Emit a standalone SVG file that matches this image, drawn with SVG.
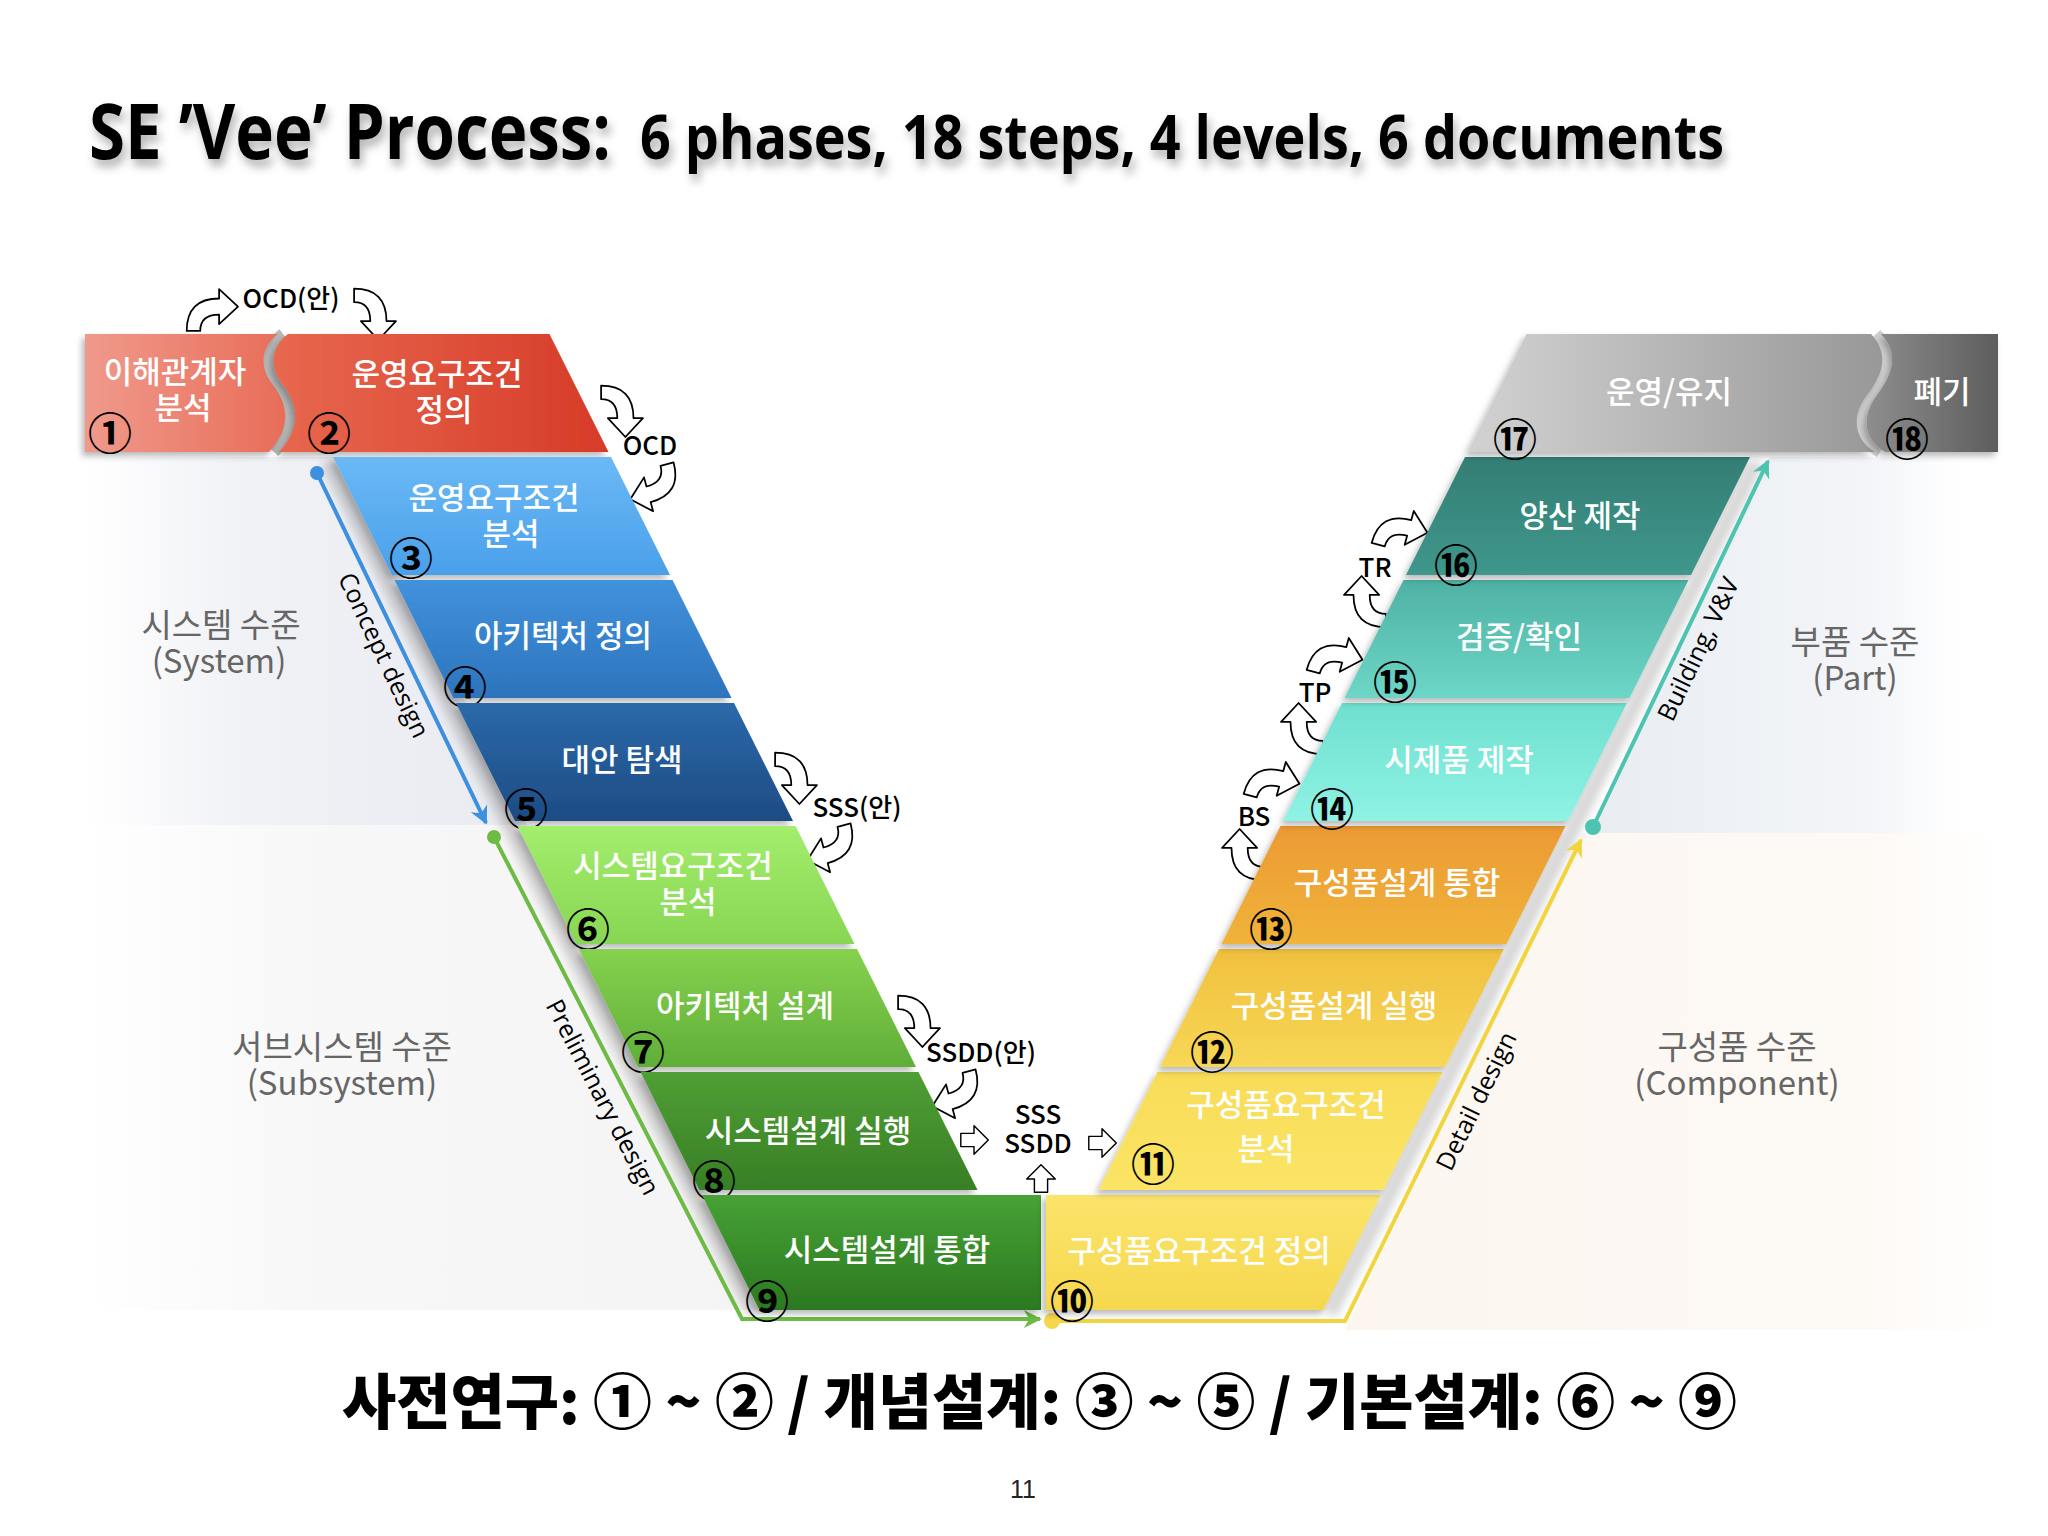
<svg xmlns="http://www.w3.org/2000/svg" width="2048" height="1536" viewBox="0 0 2048 1536">
<style>
.lbl{font-family:"Noto Sans CJK KR","Noto Sans",sans-serif;font-size:31px;fill:#fff;text-anchor:middle;font-weight:500}
.num{font-family:"Noto Sans CJK KR","DejaVu Sans",sans-serif;font-size:44px;fill:#000;text-anchor:middle;font-weight:700}
.doc{font-family:"Noto Sans CJK KR","Noto Sans",sans-serif;font-size:26px;fill:#000;text-anchor:middle;font-weight:500}
.lvl{font-family:"Noto Sans CJK KR","Noto Sans",sans-serif;font-size:33px;fill:#666;text-anchor:middle}
.ph{font-family:"Open Sans","Noto Sans",sans-serif;font-size:25px;fill:#000;text-anchor:middle}
.ca{fill:#fff;stroke:#000;stroke-width:1.3;stroke-linejoin:round}
.box{filter:url(#sh)}
.edge{stroke:#000;stroke-opacity:0.16;stroke-width:14;filter:url(#blur)}
</style>
<defs>
<filter id="sh" x="-10%" y="-10%" width="120%" height="130%"><feDropShadow dx="-3" dy="4" stdDeviation="3" flood-color="#000" flood-opacity="0.28"/></filter>
<filter id="blur" x="-20%" y="-5%" width="140%" height="110%"><feGaussianBlur stdDeviation="4"/></filter>
<filter id="tsh" x="-5%" y="-30%" width="110%" height="170%"><feDropShadow dx="3" dy="7" stdDeviation="5" flood-color="#000" flood-opacity="0.3"/></filter>
<linearGradient id="gSys" x1="0" y1="0" x2="1" y2="0"><stop offset="0" stop-color="#fff"/><stop offset="0.35" stop-color="#f1f2f6"/><stop offset="1" stop-color="#e9ebf1"/></linearGradient>
<linearGradient id="gSub" x1="0" y1="0" x2="1" y2="0"><stop offset="0" stop-color="#fff"/><stop offset="0.3" stop-color="#f8f8f8"/><stop offset="1" stop-color="#f4f4f4"/></linearGradient>
<linearGradient id="gPart" x1="0" y1="0" x2="1" y2="0"><stop offset="0" stop-color="#e9edf2"/><stop offset="0.75" stop-color="#f3f5f8"/><stop offset="1" stop-color="#fff"/></linearGradient>
<linearGradient id="gComp" x1="0" y1="0" x2="1" y2="0"><stop offset="0" stop-color="#fcf6ef"/><stop offset="0.8" stop-color="#fdf9f5"/><stop offset="1" stop-color="#fff"/></linearGradient>
<linearGradient id="g1" x1="0" y1="0" x2="1" y2="0"><stop offset="0" stop-color="#f09a8c"/><stop offset="1" stop-color="#e86d58"/></linearGradient>
<linearGradient id="g2" x1="0" y1="0" x2="1" y2="0"><stop offset="0" stop-color="#e8684f"/><stop offset="1" stop-color="#d63b28"/></linearGradient>
<linearGradient id="g3" x1="0" y1="0" x2="0" y2="1"><stop offset="0" stop-color="#6bb9f6"/><stop offset="1" stop-color="#4aa0ea"/></linearGradient>
<linearGradient id="g4" x1="0" y1="0" x2="0" y2="1"><stop offset="0" stop-color="#4291dc"/><stop offset="1" stop-color="#2c74bd"/></linearGradient>
<linearGradient id="g5" x1="0" y1="0" x2="0" y2="1"><stop offset="0" stop-color="#2b69a9"/><stop offset="1" stop-color="#1d4c84"/></linearGradient>
<linearGradient id="g6" x1="0" y1="0" x2="0" y2="1"><stop offset="0" stop-color="#a3ee6c"/><stop offset="1" stop-color="#88d654"/></linearGradient>
<linearGradient id="g7" x1="0" y1="0" x2="0" y2="1"><stop offset="0" stop-color="#86d24f"/><stop offset="1" stop-color="#5fae38"/></linearGradient>
<linearGradient id="g8" x1="0" y1="0" x2="0" y2="1"><stop offset="0" stop-color="#4f9f35"/><stop offset="1" stop-color="#377f25"/></linearGradient>
<linearGradient id="g9" x1="0" y1="0" x2="0" y2="1"><stop offset="0" stop-color="#47a235"/><stop offset="1" stop-color="#2c7821"/></linearGradient>
<linearGradient id="g10" x1="0" y1="0" x2="0" y2="1"><stop offset="0" stop-color="#fbe46a"/><stop offset="1" stop-color="#f6d84f"/></linearGradient>
<linearGradient id="g11" x1="0" y1="0" x2="0" y2="1"><stop offset="0" stop-color="#f8dc58"/><stop offset="1" stop-color="#fbe466"/></linearGradient>
<linearGradient id="g12" x1="0" y1="0" x2="0" y2="1"><stop offset="0" stop-color="#f0c03e"/><stop offset="1" stop-color="#f7d756"/></linearGradient>
<linearGradient id="g13" x1="0" y1="0" x2="0" y2="1"><stop offset="0" stop-color="#ec9a33"/><stop offset="1" stop-color="#f0b33a"/></linearGradient>
<linearGradient id="g14" x1="0" y1="0" x2="0" y2="1"><stop offset="0" stop-color="#6edfcf"/><stop offset="1" stop-color="#8ff3e4"/></linearGradient>
<linearGradient id="g15" x1="0" y1="0" x2="0" y2="1"><stop offset="0" stop-color="#4eb1a4"/><stop offset="1" stop-color="#6dd7c7"/></linearGradient>
<linearGradient id="g16" x1="0" y1="0" x2="0" y2="1"><stop offset="0" stop-color="#337e75"/><stop offset="1" stop-color="#3f978b"/></linearGradient>
<linearGradient id="g17" x1="0" y1="0" x2="1" y2="0"><stop offset="0" stop-color="#d2d2d2"/><stop offset="1" stop-color="#989898"/></linearGradient>
<linearGradient id="g18" x1="0" y1="0" x2="1" y2="0"><stop offset="0" stop-color="#8e8e8e"/><stop offset="1" stop-color="#5d5d5d"/></linearGradient>
<marker id="mB" viewBox="0 0 10 10" refX="9" refY="5" markerWidth="22" markerHeight="18" markerUnits="userSpaceOnUse" orient="auto"><path d="M0,0 L10,5 L0,10 L3,5 Z" fill="#3d8fe0"/></marker>
<marker id="mG" viewBox="0 0 10 10" refX="9" refY="5" markerWidth="22" markerHeight="18" markerUnits="userSpaceOnUse" orient="auto"><path d="M0,0 L10,5 L0,10 L3,5 Z" fill="#6dbb45"/></marker>
<marker id="mY" viewBox="0 0 10 10" refX="9" refY="5" markerWidth="22" markerHeight="18" markerUnits="userSpaceOnUse" orient="auto"><path d="M0,0 L10,5 L0,10 L3,5 Z" fill="#f2d43f"/></marker>
<marker id="mT" viewBox="0 0 10 10" refX="9" refY="5" markerWidth="22" markerHeight="18" markerUnits="userSpaceOnUse" orient="auto"><path d="M0,0 L10,5 L0,10 L3,5 Z" fill="#4ec3b1"/></marker>
<path id="ca" d="M-18,14 Q-18,-10 6,-10 L6,-17 L20,-4 L6,9 L6,2 Q-8,2 -8,14 Z"/>
<path id="ba" d="M-12,-6 L0,-6 L0,-13 L13,0 L0,13 L0,6 L-12,6 Z"/>
</defs>

<rect width="2048" height="1536" fill="#fff"/>

<g id="bands">
<polygon points="85,457 343,457 527,825 85,825" fill="url(#gSys)"/>
<polygon points="85,825 527,825 770,1310 85,1310" fill="url(#gSub)"/>
<polygon points="1770,457 1960,457 1960,833 1593,833" fill="url(#gPart)"/>
<polygon points="1583,833 1998,833 1998,1330 1345,1330" fill="url(#gComp)"/>
<line class="edge" x1="327" y1="462" x2="754" y2="1314"/>
<line class="edge" x1="1757" y1="462" x2="1330" y2="1314"/>
</g>

<g id="title" filter="url(#tsh)">
<text x="89" y="159" font-family="'Open Sans','Noto Sans',sans-serif" font-weight="700" font-size="77" textLength="522" lengthAdjust="spacingAndGlyphs">SE ’Vee’ Process:</text>
<text x="640" y="159" font-family="'Open Sans','Noto Sans',sans-serif" font-weight="700" font-size="60" textLength="1084" lengthAdjust="spacingAndGlyphs">6 phases, 18 steps, 4 levels, 6 documents</text>
</g>

<g id="levels">
<text class="lvl"><tspan x="221" y="637">시스템 수준</tspan><tspan x="219" y="673">(System)</tspan></text>
<text class="lvl"><tspan x="342" y="1059">서브시스템 수준</tspan><tspan x="342" y="1095">(Subsystem)</tspan></text>
<text class="lvl"><tspan x="1855" y="654">부품 수준</tspan><tspan x="1855" y="690">(Part)</tspan></text>
<text class="lvl"><tspan x="1737" y="1059">구성품 수준</tspan><tspan x="1737" y="1095">(Component)</tspan></text>
</g>

<g id="connectors">
<line x1="317" y1="473" x2="486" y2="823" stroke="#3d8fe0" stroke-width="4" marker-end="url(#mB)"/>
<circle cx="317" cy="473" r="7" fill="#3d8fe0"/>
<polyline points="494,837 742,1319 1040,1319" fill="none" stroke="#6dbb45" stroke-width="4" marker-end="url(#mG)"/>
<circle cx="494" cy="837" r="7" fill="#6dbb45"/>
<polyline points="1052,1321 1345,1321 1581,840" fill="none" stroke="#f2d43f" stroke-width="4" marker-end="url(#mY)"/>
<circle cx="1052" cy="1321" r="8" fill="#f5d84a"/>
<line x1="1593" y1="827" x2="1768" y2="461" stroke="#4ec3b1" stroke-width="4" marker-end="url(#mT)"/>
<circle cx="1593" cy="827" r="8" fill="#4ec3b1"/>
<text class="ph" transform="translate(384,655) rotate(64.6)" y="9">Concept design</text>
<text class="ph" transform="translate(603,1097) rotate(62.6)" y="9">Preliminary design</text>
<text class="ph" transform="translate(1476,1101) rotate(-63.9)" y="9">Detail design</text>
<text class="ph" transform="translate(1698,649) rotate(-64.4)" y="9">Building, V&amp;V</text>

<use href="#ca" class="ca" transform="translate(211,312) scale(1.35)"/>
<use href="#ca" class="ca" transform="translate(373,313) rotate(90) scale(1.35)"/>
<text class="doc" x="291" y="308">OCD(안)</text>
<use href="#ca" class="ca" transform="translate(620,410) rotate(90) scale(1.35)"/>
<text class="doc" x="650" y="455">OCD</text>
<use href="#ca" class="ca" transform="translate(655,487) rotate(165) scale(1.35)"/>
<use href="#ca" class="ca" transform="translate(794,777) rotate(90) scale(1.35)"/>
<text class="doc" x="857" y="817">SSS(안)</text>
<use href="#ca" class="ca" transform="translate(832,848) rotate(165) scale(1.35)"/>
<use href="#ca" class="ca" transform="translate(917,1020) rotate(90) scale(1.35)"/>
<text class="doc" x="981" y="1062">SSDD(안)</text>
<use href="#ca" class="ca" transform="translate(957,1094) rotate(165) scale(1.35)"/>
<text class="doc"><tspan x="1038" y="1124">SSS</tspan><tspan x="1038" y="1153">SSDD</tspan></text>
<use href="#ba" class="ca" transform="translate(974,1140) scale(1.1)"/>
<use href="#ba" class="ca" transform="translate(1102,1143) scale(1.1)"/>
<use href="#ba" class="ca" transform="translate(1041,1179) rotate(-90) scale(1.1)"/>
<use href="#ca" class="ca" transform="translate(1245,856) rotate(-90) scale(1.35)"/>
<text class="doc" x="1254" y="826">BS</text>
<use href="#ca" class="ca" transform="translate(1272,782) rotate(15) scale(1.35)"/>
<use href="#ca" class="ca" transform="translate(1304,730) rotate(-90) scale(1.35)"/>
<text class="doc" x="1315" y="702">TP</text>
<use href="#ca" class="ca" transform="translate(1335,658) rotate(15) scale(1.35)"/>
<use href="#ca" class="ca" transform="translate(1367,603) rotate(-90) scale(1.35)"/>
<text class="doc" x="1375" y="577">TR</text>
<use href="#ca" class="ca" transform="translate(1400,531) rotate(15) scale(1.35)"/>
</g>

<g id="node-1">
<path d="M283,334 C268,345 262,365 278,385 C294,406 296,428 274,452" fill="none" stroke="#b9b9b9" stroke-width="12"/>
<path class="box" d="M85,334 L278,334 C263,345 257,365 273,385 C289,406 291,428 269,452 L85,452 Z" fill="url(#g1)"/>
<text class="lbl"><tspan x="175" y="383">이해관계자</tspan><tspan x="183" y="419">분석</tspan></text>
<text class="num" x="110" y="450">①</text>
</g>
<g id="node-2">
<path class="box" d="M288,334 L549.5,334 L608.5,452 L279,452 C301,428 299,406 283,385 C267,365 273,345 288,334 Z" fill="url(#g2)"/>
<text class="lbl"><tspan x="437" y="385">운영요구조건</tspan><tspan x="444" y="421">정의</tspan></text>
<text class="num" x="329" y="450">②</text>
</g>
<g id="node-3">
<polygon class="box" points="333,457 611,457 670,575 392,575" fill="url(#g3)"/>
<text class="lbl"><tspan x="494" y="509">운영요구조건</tspan><tspan x="511" y="545">분석</tspan></text>
<text class="num" x="411" y="575">③</text>
</g>
<g id="node-4">
<polygon class="box" points="394.5,580 672.5,580 731.5,698 453.5,698" fill="url(#g4)"/>
<text class="lbl" x="563" y="647">아키텍처 정의</text>
<text class="num" x="465" y="704">④</text>
</g>
<g id="node-5">
<polygon class="box" points="456,703 734,703 793,821 515,821" fill="url(#g5)"/>
<text class="lbl" x="622" y="771">대안 탐색</text>
<text class="num" x="526" y="826">⑤</text>
</g>
<g id="node-6">
<polygon class="box" points="517.5,826 795.5,826 854.5,944 576.5,944" fill="url(#g6)"/>
<text class="lbl"><tspan x="673" y="877">시스템요구조건</tspan><tspan x="688" y="913">분석</tspan></text>
<text class="num" x="588" y="946">⑥</text>
</g>
<g id="node-7">
<polygon class="box" points="579,949 857,949 916,1067 638,1067" fill="url(#g7)"/>
<text class="lbl" x="745" y="1017">아키텍처 설계</text>
<text class="num" x="643" y="1069">⑦</text>
</g>
<g id="node-8">
<polygon class="box" points="640.5,1072 918.5,1072 977.5,1190 699.5,1190" fill="url(#g8)"/>
<text class="lbl" x="808" y="1142">시스템설계 실행</text>
<text class="num" x="714" y="1198">⑧</text>
</g>
<g id="node-9">
<polygon class="box" points="702,1195 1041,1195 1041,1310 759.5,1310" fill="url(#g9)"/>
<text class="lbl" x="887" y="1261">시스템설계 통합</text>
<text class="num" x="767" y="1318">⑨</text>
</g>
<g id="node-10">
<polygon class="box" points="1046,1195 1381,1195 1323.5,1310 1046,1310" fill="url(#g10)"/>
<text class="lbl" x="1199" y="1262">구성품요구조건 정의</text>
<text class="num" x="1072" y="1318">⑩</text>
</g>
<g id="node-11">
<polygon class="box" points="1157.5,1072 1442.5,1072 1383.5,1190 1098.5,1190" fill="url(#g11)"/>
<text class="lbl"><tspan x="1286" y="1116">구성품요구조건</tspan><tspan x="1266" y="1160">분석</tspan></text>
<text class="num" x="1153" y="1181">⑪</text>
</g>
<g id="node-12">
<polygon class="box" points="1219,949 1504,949 1445,1067 1160,1067" fill="url(#g12)"/>
<text class="lbl" x="1334" y="1017">구성품설계 실행</text>
<text class="num" x="1212" y="1069">⑫</text>
</g>
<g id="node-13">
<polygon class="box" points="1280.5,826 1565.5,826 1506.5,944 1221.5,944" fill="url(#g13)"/>
<text class="lbl" x="1397" y="894">구성품설계 통합</text>
<text class="num" x="1271" y="946">⑬</text>
</g>
<g id="node-14">
<polygon class="box" points="1342,703 1627,703 1568,821 1283,821" fill="url(#g14)"/>
<text class="lbl" x="1459" y="771">시제품 제작</text>
<text class="num" x="1332" y="826">⑭</text>
</g>
<g id="node-15">
<polygon class="box" points="1403.5,580 1688.5,580 1629.5,698 1344.5,698" fill="url(#g15)"/>
<text class="lbl" x="1519" y="648">검증/확인</text>
<text class="num" x="1395" y="699">⑮</text>
</g>
<g id="node-16">
<polygon class="box" points="1465,457 1750,457 1691,575 1406,575" fill="url(#g16)"/>
<text class="lbl" x="1580" y="527">양산 제작</text>
<text class="num" x="1456" y="582">⑯</text>
</g>
<g id="node-17">
<path d="M1876,334 C1893,352 1890,372 1872,395 C1855,418 1860,440 1880,452" fill="none" stroke="#d0d0d0" stroke-width="12"/>
<path class="box" d="M1526.5,334 L1871,334 C1888,352 1885,372 1867,395 C1850,418 1855,440 1875,452 L1467.5,452 Z" fill="url(#g17)"/>
<text class="lbl" x="1669" y="403">운영/유지</text>
<text class="num" x="1515" y="456">⑰</text>
</g>
<g id="node-18">
<path class="box" d="M1881,334 L1998,334 L1998,452 L1885,452 C1865,440 1860,418 1877,395 C1895,372 1898,352 1881,334 Z" fill="url(#g18)"/>
<text class="lbl" x="1942" y="403">폐기</text>
<text class="num" x="1907" y="456">⑱</text>
</g>

<g id="footer">
<text x="342" y="1424" font-family="'Noto Sans CJK KR',sans-serif" font-weight="900" font-size="60" textLength="1395" lengthAdjust="spacingAndGlyphs">사전연구: ① ~ ② / 개념설계: ③ ~ ⑤ / 기본설계: ⑥ ~ ⑨</text>
<text x="1023" y="1498" font-family="'Liberation Sans',sans-serif" font-size="25" fill="#222" text-anchor="middle">11</text>
</g>
</svg>
